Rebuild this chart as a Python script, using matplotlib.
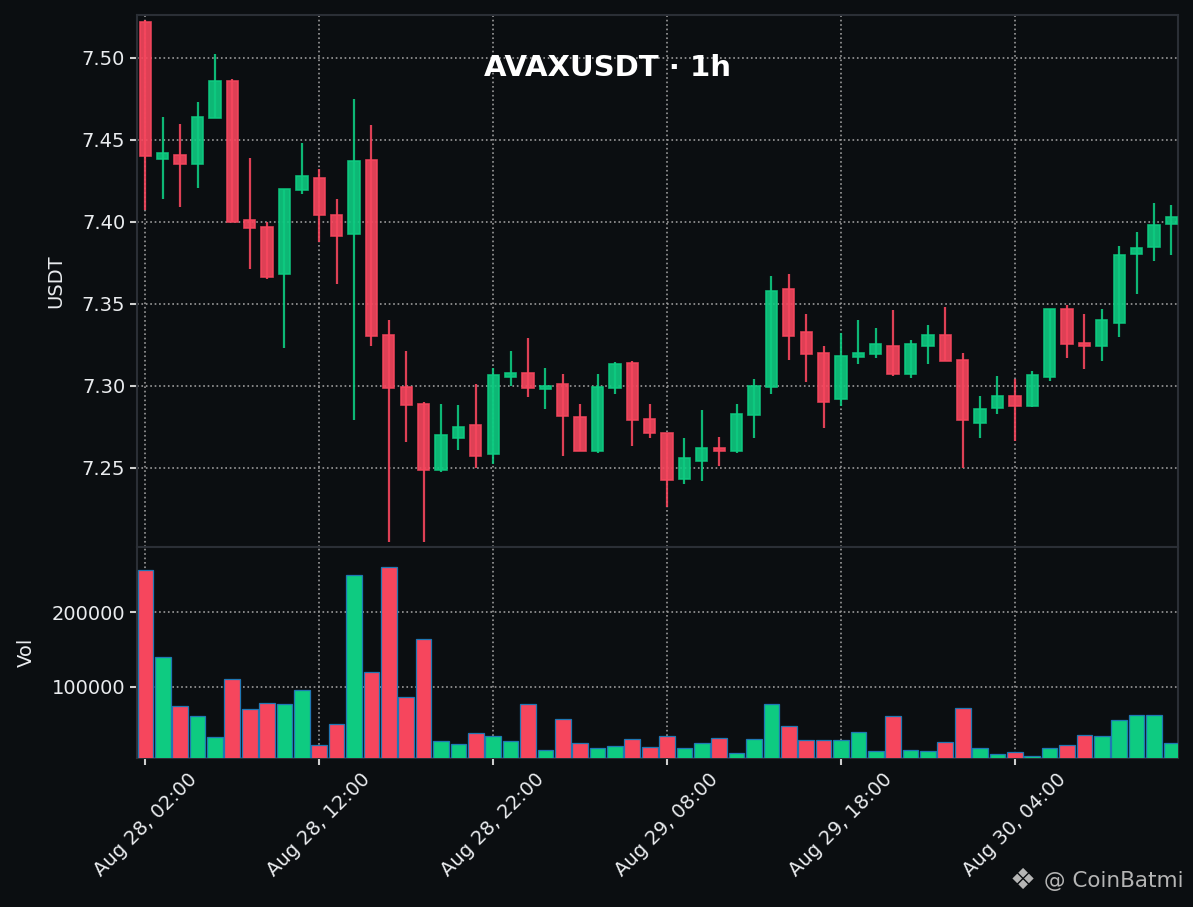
import numpy as np
import pandas as pd
import matplotlib
matplotlib.use("Agg")
import matplotlib.pyplot as plt
import matplotlib.dates as mdates

# hourly candles, Aug 28 02:00 .. Aug 30 13:00
times = pd.date_range("2023-08-28 02:00", periods=60, freq="h")

opens = [7.522, 7.4385, 7.441, 7.4356, 7.4635, 7.486, 7.4013, 7.397, 7.368, 7.4196,
         7.427, 7.4045, 7.3927, 7.4379, 7.3312, 7.2995, 7.2893, 7.249, 7.2683, 7.2764,
         7.2588, 7.3056, 7.3081, 7.2979, 7.3014, 7.2813, 7.2605, 7.2989, 7.3142, 7.280,
         7.2716, 7.2435, 7.2544, 7.2624, 7.2605, 7.2825, 7.2995, 7.3594, 7.3331, 7.3203,
         7.2918, 7.3178, 7.3197, 7.3245, 7.3075, 7.3245, 7.3312, 7.3161, 7.2777, 7.2865,
         7.2941, 7.288, 7.3056, 7.3472, 7.3264, 7.3245, 7.3386, 7.3806, 7.385, 7.399]
highs = [7.523, 7.4637, 7.460, 7.473, 7.5027, 7.487, 7.4387, 7.400, 7.420, 7.448,
         7.432, 7.4137, 7.4748, 7.4589, 7.340, 7.3212, 7.2905, 7.2888, 7.2882, 7.301,
         7.3107, 7.3212, 7.3291, 7.3107, 7.3071, 7.2888, 7.3071, 7.3149, 7.3155, 7.2888,
         7.2716, 7.268, 7.2853, 7.2687, 7.2888, 7.3042, 7.3669, 7.368, 7.3436, 7.3241,
         7.3321, 7.340, 7.3352, 7.3461, 7.3279, 7.3369, 7.348, 7.3199, 7.2937, 7.3058,
         7.3042, 7.309, 7.3472, 7.3495, 7.3436, 7.3468, 7.3856, 7.3936, 7.4118, 7.4102]
lows = [7.407, 7.414, 7.409, 7.421, 7.4635, 7.400, 7.3713, 7.365, 7.323, 7.417,
        7.388, 7.362, 7.279, 7.3243, 7.205, 7.266, 7.205, 7.2473, 7.261, 7.25,
        7.2525, 7.3002, 7.2932, 7.2859, 7.2573, 7.2605, 7.2592, 7.2951, 7.2634, 7.2683,
        7.2261, 7.2403, 7.242, 7.2513, 7.2592, 7.268, 7.2949, 7.3159, 7.3027, 7.2744,
        7.288, 7.3134, 7.3172, 7.306, 7.3048, 7.3134, 7.3155, 7.25, 7.2683, 7.283,
        7.2666, 7.2872, 7.3031, 7.3172, 7.3105, 7.3153, 7.3298, 7.356, 7.3762, 7.380]
closes = [7.440, 7.4423, 7.4356, 7.464, 7.4861, 7.400, 7.3965, 7.3667, 7.420, 7.4282,
          7.404, 7.3917, 7.4372, 7.3306, 7.2989, 7.2886, 7.249, 7.2704, 7.2752, 7.2576,
          7.3065, 7.3081, 7.2989, 7.3002, 7.2819, 7.2605, 7.2995, 7.3136, 7.2794, 7.2716,
          7.2429, 7.2563, 7.2624, 7.2605, 7.2832, 7.3002, 7.3581, 7.3306, 7.3197, 7.2905,
          7.3184, 7.3203, 7.3254, 7.3075, 7.3254, 7.3312, 7.3155, 7.279, 7.2861, 7.2941,
          7.288, 7.3065, 7.3472, 7.3258, 7.3245, 7.3405, 7.3799, 7.3843, 7.3984, 7.4032]
volumes = [256400, 139600, 74200, 60900, 32400, 110200, 70200, 78200, 76900, 95600,
           22200, 50700, 249300, 119600, 260900, 86200, 163600, 27600, 23600, 38200,
           34200, 27600, 76900, 15600, 56900, 24900, 17800, 20900, 30200, 19600,
           34200, 17800, 24900, 31600, 11600, 30200, 76900, 47600, 28900, 28900,
           28900, 39600, 14200, 60900, 15600, 14200, 26200, 71600, 18200, 10200,
           12900, 7100, 18200, 22200, 35600, 34200, 55600, 62200, 62200, 24900]

bg = "#0b0e11"
up = "#0ecb81"
down = "#f6465d"
spine_c = "#2b2f36"
txt_c = "#eaecef"

o = np.array(opens)
h = np.array(highs)
l = np.array(lows)
c = np.array(closes)
v = np.array(volumes)
cols = [up if c[i] >= o[i] else down for i in range(len(c))]

hour = 1 / 24
x = mdates.date2num(times)

fig = plt.figure(figsize=(11.93, 9.07), dpi=100, facecolor=bg)
W, H = 1193, 907
ax1 = fig.add_axes([137 / W, 1 - 547 / H, 1041 / W, 532 / H])
ax2 = fig.add_axes([137 / W, 1 - 758 / H, 1041 / W, 211 / H], sharex=ax1)

for ax in (ax1, ax2):
    ax.set_facecolor(bg)
    for s in ax.spines.values():
        s.set_color(spine_c)
        s.set_linewidth(1.5)
    ax.grid(True, color="#9a9a9a", linestyle=":", linewidth=1.2)
    ax.set_axisbelow(True)
    ax.tick_params(colors="#cfcfcf", labelcolor=txt_c, labelsize=14,
                   length=5, width=1.5)

# candles
ax1.vlines(x, l, h, colors=cols, linewidth=1.6, alpha=0.9, zorder=2)
ax1.bar(x, np.abs(c - o), bottom=np.minimum(o, c), width=0.65 * hour,
        color=cols, edgecolor=cols, linewidth=1.2, alpha=0.9, zorder=3)
rng = h.max() - l.min()
ax1.set_ylim(l.min() - 0.01 * rng, h.max() + 0.01 * rng)
ax1.set_yticks([7.25, 7.30, 7.35, 7.40, 7.45, 7.50])
ax1.yaxis.set_major_formatter(matplotlib.ticker.FormatStrFormatter("%.2f"))
ax1.set_ylabel("USDT", color=txt_c, fontsize=14, labelpad=12)
ax1.tick_params(axis="x", labelbottom=False, length=0)

# volume
ax2.bar(x, v, width=0.9 * hour, color=cols, edgecolor="#1f77b4",
        linewidth=0.9, zorder=3)
ax2.set_ylim(v.min() * 0.7, v.max() * 1.1)
ax2.yaxis.set_major_locator(matplotlib.ticker.MultipleLocator(100000))
ax2.set_ylabel("Vol", color=txt_c, fontsize=14, labelpad=11)

ax2.set_xlim(x[0] - 0.48 * hour, x[-1] + 0.38 * hour)
ax2.set_xticks(x[::10])
ax2.xaxis.set_major_formatter(mdates.DateFormatter("%b %d, %H:%M"))
plt.setp(ax2.get_xticklabels(), rotation=45, ha="center")

fig.text(607 / W, 1 - 68 / H, "AVAXUSDT · 1h", color="white", fontsize=21,
         fontweight="bold", ha="center", va="center")

fig.text(1023 / W, 1 - 881 / H, "❖", color="#b5b5b5", fontsize=21,
         ha="center", va="center")
fig.text(1183 / W, 1 - 881 / H, "@ CoinBatmi", color="#b5b5b5", fontsize=15.5,
         ha="right", va="center")

fig.savefig("out.png", dpi=100, facecolor=bg)
